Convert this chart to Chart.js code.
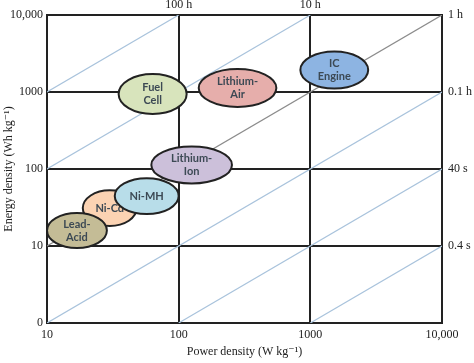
<!DOCTYPE html>
<html>
<head>
<meta charset="utf-8">
<script src="https://cdn.jsdelivr.net/npm/chart.js@4"></script>
<style>
  html, body { margin: 0; padding: 0; background: #fff; }
  #wrap { width: 474px; height: 363px; }
</style>
</head>
<body>
<div id="wrap"><canvas id="ragone" width="474" height="363"></canvas></div>
<script>
      /* ---------- DATA ---------- */
      const xTicks = [10, 100, 1000, 10000];
      const xTickLabels = ["10", "100", "1000", "10,000"];
      const yTicks = [1, 10, 100, 1000, 10000];
      const yTickLabels = ["0", "10", "100", "1000", "10,000"];
      const topTicks = [100, 1000];
      const topTickLabels = ["100 h", "10 h"];
      const rightTicks = [10, 100, 1000, 10000];
      const rightTickLabels = ["0.4 s", "40 s", "0.1 h", "1 h"];

      // constant discharge-time lines: [power, energy] end points
      const timeLineStart = [[10, 1000], [10, 100], [10, 10], [10, 1], [100, 1], [1000, 1]];
      const timeLineEnd = [[100, 10000], [1000, 10000], [10000, 10000], [10000, 1000], [10000, 100], [10000, 10]];
      const timeLineMain = [false, false, true, false, false, false];

      // technology regions (W/kg, Wh/kg)
      const techNames = [["Fuel", "Cell"], ["Lithium-", "Air"], ["IC", "Engine"], ["Lithium-", "Ion"], ["Ni-Cd"], ["Ni-MH"], ["Lead-", "Acid"]];
      const powerMin = [35, 142, 840, 62, 18.7, 32.7, 10];
      const powerMax = [115, 552, 2750, 254, 48, 100, 28.5];
      const energyMin = [518, 639, 1110, 65, 18.2, 26, 9.4];
      const energyMax = [1713, 1990, 3357, 196, 53, 76, 26.8];
      const techColors = ["#d8e4bc", "#e6aeab", "#8db4e2", "#ccc0da", "#fbd3b3", "#b8dde9", "#c4bc96"];

      /* ---------- STYLE ---------- */
      const ink = "#222222";
      const blueLine = "#a9c3dc";
      const greyLine = "#8c8c8c";
      const serif = "'Liberation Serif', 'DejaVu Serif', serif";

      Chart.defaults.font.family = serif;
      Chart.defaults.color = ink;

      const datasets = timeLineStart.map((s, i) => ({
        data: [
          { x: s[0], y: s[1] },
          { x: timeLineEnd[i][0], y: timeLineEnd[i][1] },
        ],
        showLine: true,
        borderColor: timeLineMain[i] ? greyLine : blueLine,
        borderWidth: 1.2,
        pointRadius: 0,
      }));

      /* ---------- ELLIPSES ---------- */
      const ellipsePlugin = {
        id: "ellipses",
        afterDatasetsDraw(chart) {
          const { ctx, scales } = chart;
          const xs = scales.x, ys = scales.y;
          techNames.forEach((lines, i) => {
            const x1 = xs.getPixelForValue(powerMin[i]);
            const x2 = xs.getPixelForValue(powerMax[i]);
            const y1 = ys.getPixelForValue(energyMax[i]);
            const y2 = ys.getPixelForValue(energyMin[i]);
            const cx = (x1 + x2) / 2, cy = (y1 + y2) / 2;
            ctx.save();
            ctx.beginPath();
            ctx.ellipse(cx, cy, (x2 - x1) / 2, (y2 - y1) / 2, 0, 0, Math.PI * 2);
            ctx.fillStyle = techColors[i];
            ctx.fill();
            ctx.lineWidth = 2;
            ctx.strokeStyle = ink;
            ctx.stroke();
            ctx.fillStyle = "#3c4954";
            ctx.font = "bold 11px Lato, 'Open Sans', sans-serif";
            ctx.textAlign = "center";
            ctx.textBaseline = "middle";
            const lh = 13;
            lines.forEach((t, k) => {
              ctx.fillText(t, cx, cy + (k - (lines.length - 1) / 2) * lh);
            });
            ctx.restore();
          });
        },
      };

      const fixTicks = (list) => (axis) => {
        axis.ticks = list.map((v) => ({ value: v }));
      };
      const fixSize = (w, h) => (axis) => {
        if (w != null) axis.width = w;
        if (h != null) axis.height = h;
      };

      new Chart(document.getElementById("ragone").getContext("2d"), {
        type: "scatter",
        data: { datasets },
        options: {
          responsive: false,
          animation: false,
          layout: { padding: 0 },
          plugins: { legend: { display: false }, tooltip: { enabled: false } },
          scales: {
            x: {
              type: "logarithmic",
              position: "bottom",
              min: 10,
              max: 10000,
              afterBuildTicks: fixTicks(xTicks),
              afterFit: fixSize(null, 40),
              ticks: {
                font: { size: 12 },
                padding: 5,
                maxRotation: 0,
                autoSkip: false,
                callback: (v, i) => xTickLabels[i],
              },
              grid: { color: ink, lineWidth: 2, drawTicks: false },
              border: { color: ink, width: 2 },
              title: {
                display: true,
                text: "Power density (W kg⁻¹)",
                font: { size: 12 },
                padding: { top: 0, bottom: 4 },
              },
            },
            x2: {
              type: "logarithmic",
              position: "top",
              min: 10,
              max: 10000,
              afterBuildTicks: fixTicks(topTicks),
              afterFit: fixSize(null, 15),
              ticks: {
                font: { size: 12 },
                padding: 3,
                maxRotation: 0,
                autoSkip: false,
                callback: (v, i) => topTickLabels[i],
              },
              grid: { display: false, drawTicks: false },
              border: { color: ink, width: 2 },
            },
            y: {
              type: "logarithmic",
              position: "left",
              min: 1,
              max: 10000,
              afterBuildTicks: fixTicks(yTicks),
              afterFit: fixSize(47, null),
              ticks: {
                font: { size: 12 },
                padding: 4,
                autoSkip: false,
                callback: (v, i) => yTickLabels[i],
              },
              grid: { color: ink, lineWidth: 2, drawTicks: false },
              border: { color: ink, width: 2 },
              title: {
                display: true,
                text: "Energy density (Wh kg⁻¹)",
                font: { size: 12 },
                padding: { top: 2, bottom: 0 },
              },
            },
            y2: {
              type: "logarithmic",
              position: "right",
              min: 1,
              max: 10000,
              afterBuildTicks: fixTicks(rightTicks),
              afterFit: fixSize(32, null),
              ticks: {
                font: { size: 12 },
                padding: 6,
                autoSkip: false,
                callback: (v, i) => rightTickLabels[i],
              },
              grid: { display: false, drawTicks: false },
              border: { color: ink, width: 2 },
            },
          },
        },
        plugins: [ellipsePlugin],
      });
</script>
</body>
</html>
